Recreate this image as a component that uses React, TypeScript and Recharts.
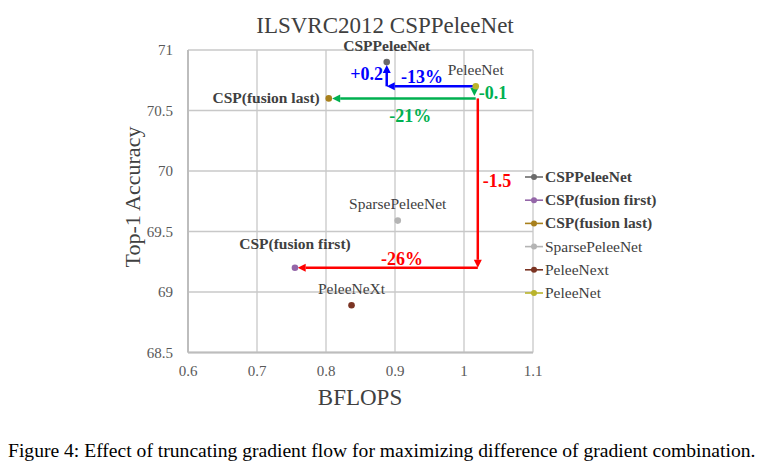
import React from "react";
import {
  ScatterChart,
  Scatter,
  XAxis,
  YAxis,
  CartesianGrid,
  ReferenceLine,
  ReferenceDot,
  Legend,
} from "recharts";

const FONT = "'Liberation Serif', 'Times New Roman', serif";
const TEXT = "#404040";

// series, in legend order
const SERIES_NAMES = ["CSPPeleeNet", "CSP(fusion first)", "CSP(fusion last)", "SparsePeleeNet", "PeleeNext", "PeleeNet"];
const POINT_LABELS = ["CSPPeleeNet", "CSP(fusion first)", "CSP(fusion last)", "SparsePeleeNet", "PeleeNeXt", "PeleeNet"];
const BFLOPS = [0.888, 0.755, 0.804, 0.904, 0.837, 1.017];
const TOP1 = [70.9, 69.2, 70.6, 69.59, 68.89, 70.7];

const X_TICKS = [0.6, 0.7, 0.8, 0.9, 1, 1.1];
const Y_TICKS = [68.5, 69, 69.5, 70, 70.5, 71];

// arrow segments: [x1, y1, x2, y2]
const BLUE_ARROWS = [
  [1.017, 70.7, 0.888, 70.7],
  [0.888, 70.7, 0.888, 70.876],
];
const GREEN_ARROWS = [
  [1.015, 70.7, 1.015, 70.62],
  [1.017, 70.6, 0.809, 70.6],
];
const RED_ARROWS = [
  [1.02, 70.6, 1.02, 69.2],
  [1.02, 69.2, 0.759, 69.2],
];

const BLUE_NOTES = ["+0.2", "-13%"];
const BLUE_NOTE_X = [0.859, 0.939];
const BLUE_NOTE_Y = [70.8, 70.78];
const GREEN_NOTES = ["-0.1", "-21%"];
const GREEN_NOTE_X = [1.042, 0.922];
const GREEN_NOTE_Y = [70.645, 70.453];
const RED_NOTES = ["-1.5", "-26%"];
const RED_NOTE_X = [1.048, 0.91];
const RED_NOTE_Y = [69.915, 69.276];

const COLORS: Record<string, string> = {
  CSPPeleeNet: "#6b6b6b",
  "CSP(fusion first)": "#9466a8",
  "CSP(fusion last)": "#a8801c",
  SparsePeleeNet: "#b4b4b4",
  PeleeNext: "#7b3423",
  PeleeNet: "#bab42c",
};

// label placement around each point: dx, dy (to baseline), anchor, bold
const LABEL_STYLE: Record<string, [number, number, "middle" | "end", boolean]> = {
  CSPPeleeNet: [0, -11, "middle", true],
  "CSP(fusion first)": [0, -19, "middle", true],
  "CSP(fusion last)": [-9, 5, "end", true],
  SparsePeleeNet: [0, -12, "middle", false],
  PeleeNext: [0, -11, "middle", false],
  PeleeNet: [0, -11, "middle", false],
};

function pointShape(name: string, label: string) {
  return (props: any) => {
    const { cx, cy } = props;
    const [dx, dy, anchor, bold] = LABEL_STYLE[name];
    return (
      <g>
        <circle cx={cx} cy={cy} r={3.3} fill={COLORS[name]} />
        <text
          x={cx + dx}
          y={cy + dy}
          textAnchor={anchor}
          fontFamily={FONT}
          fontSize={15.5}
          fontWeight={bold ? 700 : 400}
          fill={TEXT}
        >
          {label}
        </text>
      </g>
    );
  };
}

function arrowShape(color: string) {
  return (props: any) => {
    const { x1, y1, x2, y2 } = props;
    const len = Math.hypot(x2 - x1, y2 - y1) || 1;
    const ux = (x2 - x1) / len;
    const uy = (y2 - y1) / len;
    const hl = 8;
    const hw = 4;
    const bx = x2 - ux * hl;
    const by = y2 - uy * hl;
    return (
      <g>
        <line x1={x1} y1={y1} x2={bx} y2={by} stroke={color} strokeWidth={2.5} />
        <polygon
          points={`${x2},${y2} ${bx - uy * hw},${by + ux * hw} ${bx + uy * hw},${by - ux * hw}`}
          fill={color}
        />
      </g>
    );
  };
}

function noteShape(text: string, color: string) {
  return (props: any) => (
    <text
      x={props.cx}
      y={props.cy + 6}
      textAnchor="middle"
      fontFamily={FONT}
      fontSize={18}
      fontWeight={700}
      fill={color}
    >
      {text}
    </text>
  );
}

function LegendBox({ payload }: any) {
  const items = SERIES_NAMES.map((n) => (payload || []).find((p: any) => p.value === n) || { value: n, color: COLORS[n] });
  return (
    <svg width={140} height={150} style={{ overflow: "visible" }}>
      {items.map((p: any, i: number) => {
        const y = 12 + i * 23.2;
        const bold = i < 3;
        return (
          <g key={p.value}>
            <line x1={1} x2={19} y1={y} y2={y} stroke={COLORS[p.value]} strokeWidth={1.6} />
            <circle cx={10} cy={y} r={3} fill={COLORS[p.value]} />
            <text x={21} y={y + 5} fontFamily={FONT} fontSize={15.5} fontWeight={bold ? 700 : 400} fill={TEXT}>
              {p.value}
            </text>
          </g>
        );
      })}
    </svg>
  );
}

function renderArrows(segs: number[][], color: string, key: string) {
  return segs.map((s, i) => (
    <ReferenceLine
      key={`${key}${i}`}
      segment={[{ x: s[0], y: s[1] }, { x: s[2], y: s[3] }]}
      ifOverflow="visible"
      stroke={color}
      shape={arrowShape(color)}
    />
  ));
}

function renderNotes(texts: string[], xs: number[], ys: number[], color: string) {
  return texts.map((t, i) => (
    <ReferenceDot key={t} x={xs[i]} y={ys[i]} r={0} ifOverflow="visible" shape={noteShape(t, color)} />
  ));
}

export default function App() {
  return (
    <div style={{ position: "absolute", left: 0, top: 0, width: 769, height: 469, background: "#fff" }}>
      <ScatterChart width={769} height={469} margin={{ top: 50, right: 236, bottom: 86.5, left: 128 }}>
        <CartesianGrid stroke="#c8c8c8" strokeWidth={1.3} />
        <XAxis
          type="number"
          dataKey="x"
          domain={[0.6, 1.1]}
          ticks={X_TICKS}
          height={30}
          tickLine={false}
          tickMargin={7}
          axisLine={{ stroke: "#bdbdbd", strokeWidth: 2 }}
          tick={{ fill: "#595959", fontSize: 15, fontFamily: FONT }}
        />
        <YAxis
          type="number"
          dataKey="y"
          domain={[68.5, 71]}
          ticks={Y_TICKS}
          width={60}
          tickLine={false}
          tickMargin={9}
          axisLine={{ stroke: "#bdbdbd", strokeWidth: 2 }}
          tick={{ fill: "#595959", fontSize: 15, fontFamily: FONT }}
        />
        {renderArrows(BLUE_ARROWS, "#0000ff", "b")}
        {renderArrows(GREEN_ARROWS, "#00b050", "g")}
        {renderArrows(RED_ARROWS, "#ff0000", "r")}
        {renderNotes(BLUE_NOTES, BLUE_NOTE_X, BLUE_NOTE_Y, "#0000ff")}
        {renderNotes(GREEN_NOTES, GREEN_NOTE_X, GREEN_NOTE_Y, "#00b050")}
        {renderNotes(RED_NOTES, RED_NOTE_X, RED_NOTE_Y, "#ff0000")}
        {SERIES_NAMES.map((name, i) => (
          <Scatter
            key={name}
            name={name}
            data={[{ x: BFLOPS[i], y: TOP1[i] }]}
            fill={COLORS[name]}
            shape={pointShape(name, POINT_LABELS[i])}
            isAnimationActive={false}
          />
        ))}
        <Legend
          layout="horizontal"
          verticalAlign="middle"
          align="center"
          wrapperStyle={{ left: 524, top: 165, width: 140, height: 150 }}
          content={LegendBox}
        />
      </ScatterChart>
      <svg
        width={769}
        height={469}
        style={{ position: "absolute", left: 0, top: 0, pointerEvents: "none" }}
      >
        <text x={385} y={33} textAnchor="middle" fontFamily={FONT} fontSize={23} fill={TEXT}>
          ILSVRC2012 CSPPeleeNet
        </text>
        <text
          transform="translate(140,197) rotate(-90)"
          textAnchor="middle"
          fontFamily={FONT}
          fontSize={22}
          fill={TEXT}
        >
          Top-1 Accuracy
        </text>
        <text x={360} y={405} textAnchor="middle" fontFamily={FONT} fontSize={23} fill={TEXT}>
          BFLOPS
        </text>
        <text x={8} y={457} fontFamily={FONT} fontSize={19.6} fill="#000">
          Figure 4: Effect of truncating gradient flow for maximizing difference of gradient combination.
        </text>
      </svg>
    </div>
  );
}
